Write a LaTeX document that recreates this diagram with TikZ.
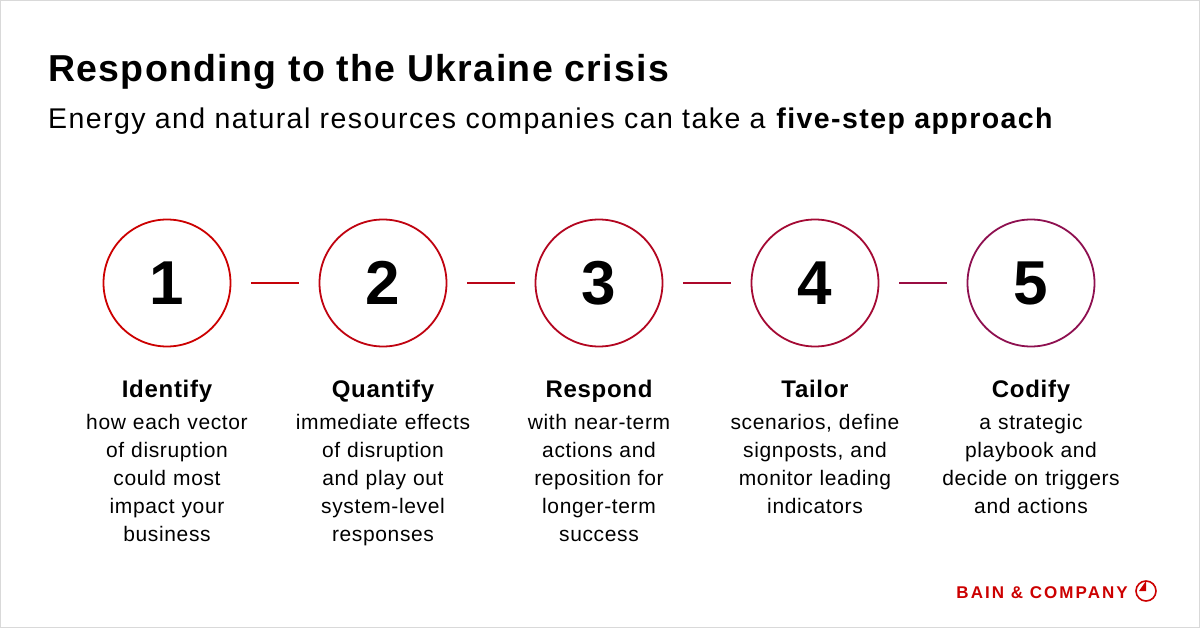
\documentclass[tikz,border=0pt]{standalone}
\usepackage{fontspec}
\setmainfont{Liberation Sans}
\usetikzlibrary{positioning,calc}
\definecolor{bainred}{HTML}{CC0000}
\definecolor{bainplum}{HTML}{8E1050}
\begin{document}
\begin{tikzpicture}[
    x=1pt, y=-1pt,
    stepcircle/.style={circle, draw, line width=1.8pt, minimum size=127pt, inner sep=0pt, font=\fontsize{62}{62}\selectfont\bfseries},
    link/.style={line width=1.4pt},
    steptitle/.style={font=\fontsize{24}{26}\selectfont\bfseries\addfontfeature{LetterSpace=3}, anchor=base},
    stepbody/.style={font=\fontsize{21}{28}\selectfont\addfontfeature{LetterSpace=3}, align=center, anchor=north, text width=200pt}
]
% frame
\draw[black!15, fill=white] (0.5,0.5) rectangle (1199.5,627.5);
\useasboundingbox (0,0) rectangle (1200,628);

% headline
\node[anchor=base west, inner sep=0pt, font=\fontsize{37.5}{40}\selectfont\bfseries\addfontfeature{LetterSpace=3.5}] (title) at (48,82) {Responding to the Ukraine crisis};
\node[anchor=base west, inner sep=0pt, font=\fontsize{28.5}{30}\selectfont\addfontfeature{LetterSpace=5}] (subtitle) at (48,129) {Energy and natural resources companies can take a \textbf{five-step approach}};

% circles
\foreach \i/\x/\mix/\name/\body in {
    1/167/100/Identify/{how each vector\\of disruption\\could most\\impact your\\business},
    2/383/80/Quantify/{immediate effects\\of disruption\\and play out\\system-level\\responses},
    3/599/60/Respond/{with near-term\\actions and\\reposition for\\longer-term\\success},
    4/815/35/Tailor/{scenarios, define\\signposts, and\\monitor leading\\indicators},
    5/1031/0/Codify/{a strategic\\playbook and\\decide on triggers\\and actions}}{
  \colorlet{stepcol}{bainred!\mix!bainplum}
  \node[stepcircle, draw=stepcol] (s\i) at (\x,283) {\i};
  \node[steptitle] (t\i) at (\x,397) {\name};
  \node[stepbody] (b\i) at (\x,411) {\body};
}

% connectors
\foreach \a/\b/\mix in {1/2/90, 2/3/70, 3/4/48, 4/5/18}{
  \draw[link, bainred!\mix!bainplum] ($(s\a.east)+(20,0)$) -- ($(s\b.west)+(-20,0)$);
}

% logo
\node[anchor=base east, inner sep=0pt, text=bainred, font=\fontsize{17}{17}\selectfont\bfseries\addfontfeature{LetterSpace=12}] (logo) at (1128,598) {BAIN \& COMPANY};
\node[circle, draw=bainred, line width=1.6pt, minimum size=20pt, inner sep=0pt] (mark) at (1146,591) {};
\fill[bainred] (mark.center) -- (1146,581) -- (1139,591) -- cycle;
\end{tikzpicture}
\end{document}
